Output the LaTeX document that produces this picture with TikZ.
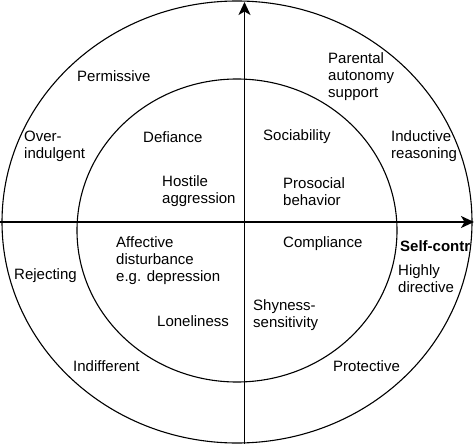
\documentclass[tikz,border=0pt]{standalone}
\usepackage{fontspec}
\setmainfont{Liberation Sans}
\usetikzlibrary{arrows.meta}

\begin{document}
\begin{tikzpicture}[x=1pt, y=-1pt,
    every node/.style={font=\fontsize{15}{17}\selectfont, inner sep=0pt, anchor=west, align=left},
    ring/.style={line width=1.1pt},
    axis/.style={line width=1.8pt, -{Stealth[length=13pt, width=12pt, inset=3.5pt]}}]
    \useasboundingbox (0,0) rectangle (474,444);

    \draw[ring] (237,222) ellipse [x radius=235, y radius=221];
    \draw[ring] (237,230.5) ellipse [x radius=160, y radius=151.5];

    \coordinate (west) at (0,222);
    \coordinate (east) at (474,222);
    \coordinate (south) at (244.5,444);
    \coordinate (north) at (244.5,2);
    \draw[axis] (west) -- (east);
    \draw[axis] (south) -- (north);

    \foreach \n/\x/\y/\t in {perm/77/76/Permissive, parent/328/77/{Parental\\autonomy\\support},
        over/24/146/{Over-\\indulgent}, defi/143/137/Defiance, soci/263/137/Sociability,
        induct/391/146/{Inductive\\reasoning}, hostile/162/191.5/{Hostile\\aggression},
        proso/283/191.5/{Prosocial\\behavior}, affect/116/261/{Affective\\disturbance\\e.g. depression},
        compl/283/244/Compliance, reject/14/276/Rejecting, highly/398/279/{Highly\\directive},
        lonely/157/321/Loneliness, shy/253/315/{Shyness-\\sensitivity},
        indiff/73/366/Indifferent, protect/333/366/Protective} {
        \node (\n) at (\x,\y) {\t};
    }
    \node[font=\fontsize{15}{17}\selectfont\bfseries] (selfc) at (400,246) {Self-contr};
\end{tikzpicture}
\end{document}
